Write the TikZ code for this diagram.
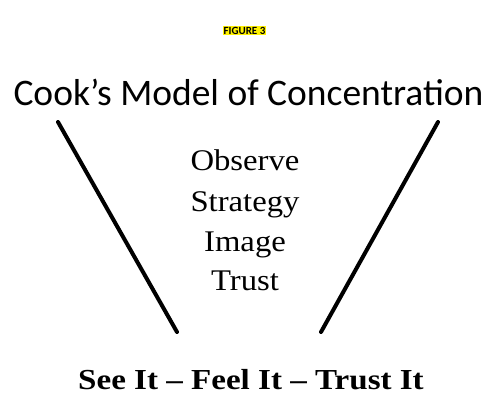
\documentclass[tikz,border=0pt]{standalone}
\usepackage{fontspec}
\setmainfont{Liberation Serif}
\newfontfamily\calib{Carlito}
\newfontfamily\midfont[FakeStretch=1.09]{Liberation Serif}
\newfontfamily\botfont[FakeStretch=1.14]{Liberation Serif}
\begin{document}
\begin{tikzpicture}[x=1pt,y=-1pt,
  edge/.style={line width=4pt, line cap=round},
  mid/.style={font=\midfont\fontsize{30}{40}\selectfont, anchor=base, inner sep=0pt}]
\useasboundingbox (0,0) rectangle (500,416);
\node[fill=yellow, inner xsep=1pt, inner ysep=1pt, font=\calib\bfseries\fontsize{11}{12}\selectfont, anchor=base] (fig) at (244.5,34) {FIGURE 3};
\node[font=\calib\fontsize{37.5}{40}\selectfont, anchor=base, inner sep=0pt] (title) at (248.5,105) {Cook’s Model of Concentration};
\coordinate (l1) at (58,122);
\coordinate (l2) at (177,332);
\coordinate (r1) at (438,122);
\coordinate (r2) at (321,332);
\draw[edge] (l1) -- (l2);
\draw[edge] (r1) -- (r2);
\node[mid] (o) at (245,170) {Observe};
\node[mid] (s) at (245,211) {Strategy};
\node[mid] (i) at (245,251) {Image};
\node[mid] (t) at (245,290) {Trust};
\node[font=\botfont\bfseries\fontsize{29}{32}\selectfont, anchor=base, inner sep=0pt] (b) at (251,389) {See It – Feel It – Trust It};
\end{tikzpicture}
\end{document}
